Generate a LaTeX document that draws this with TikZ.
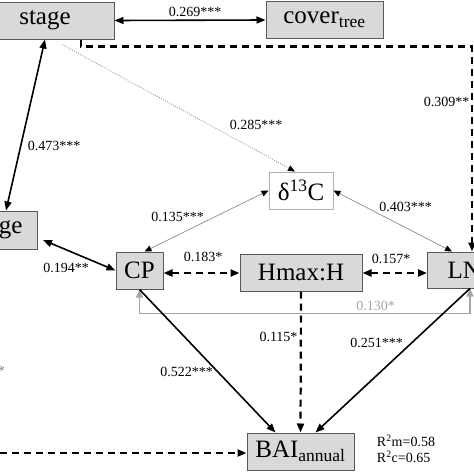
\documentclass[tikz,border=0pt]{standalone}
\usepackage{fontspec}
\setmainfont{Liberation Serif}
\usetikzlibrary{arrows.meta,positioning}
\definecolor{boxgray}{RGB}{217,217,217}
\definecolor{loopgray}{RGB}{165,165,165}

\begin{document}
\begin{tikzpicture}[x=1pt,y=-1pt,
  var/.style={draw=black!65,fill=boxgray,line width=1pt,minimum height=37pt,inner sep=0pt,font=\fontsize{25}{28}\selectfont},
  iso/.style={var,fill=white,draw=black!30},
  coef/.style={font=\fontsize{14}{16}\selectfont,inner sep=0pt},
  both/.style={{Triangle[length=9pt,width=7pt]}-{Triangle[length=9pt,width=7pt]}},
  one/.style={-{Triangle[length=9pt,width=7pt]}},
  fboth/.style={{Triangle[length=7pt,width=6pt,color=black]}-{Triangle[length=7pt,width=6pt,color=black]}},
  sol/.style={line width=1.6pt,black},
  dsh/.style={line width=2.2pt,black,dash pattern=on 7pt off 5pt},
  fine/.style={line width=0.7pt,draw=black!45},
  dots/.style={line width=0.7pt,draw=black!45,dash pattern=on 1pt off 1.3pt},
  loopline/.style={line width=1.4pt,draw=loopgray}]
\useasboundingbox (0,0) rectangle (474,474);
% variables
\node[var,minimum width=138pt] (stage) at (45,20.5) {stage};
\node[var,minimum width=117pt] (cover) at (324.5,20) {cover\textsubscript{tree}};
\node[iso,minimum width=64pt] (d13c) at (301,190.5) {δ\textsuperscript{13}C};
\node[var,anchor=east,text width=70pt,align=right,inner xsep=15pt,minimum height=38pt] (age) at (38,230) {ge};
\node[var,minimum width=47pt] (cp) at (139.5,270.5) {CP};
\node[var,minimum width=122pt] (hmax) at (301,272.5) {Hmax:H};
\node[var,anchor=west,inner xsep=20pt,minimum height=36pt] (ln) at (427,270) {LN};
\node[var,minimum width=107pt] (bai) at (300.5,451.5) {BAI\textsubscript{annual}};
\coordinate (lin) at (0,453);
% paths
\draw[sol,both] (stage.east) -- (cover.west);
\draw[dsh,one] ([xshift=36pt]stage.south) -- ++(0,7) -| ([xshift=45pt]ln.north west);
\draw[dots,-{Triangle[length=7pt,width=6pt,color=black]}] ([xshift=17pt,yshift=-5pt]stage.south) -- ([xshift=-6pt]d13c.north);
\draw[sol,both] ([xshift=-32pt]age.north east) -- (stage.south);
\draw[sol,both] ([xshift=5pt,yshift=-10pt]age.east) -- (cp.west);
\draw[dsh,both] ([yshift=-2.5pt]cp.east) -- ([yshift=-0.5pt]hmax.west);
\draw[dsh,both] ([yshift=-0.5pt]hmax.east) -- ([yshift=-3pt]ln.west);
\draw[fine,fboth] ([xshift=5pt]cp.north) -- (d13c.west);
\draw[fine,fboth] (d13c.east) -- ([xshift=25pt]ln.north west);
\draw[loopline,{Triangle[length=8pt,width=7pt]}-{Triangle[length=8pt,width=7pt]}] (cp.south) -- ++(0,24) -| ([xshift=43pt]ln.south west);
\draw[sol,one] (cp.south) -- ([xshift=-25pt]bai.north);
\draw[dsh,one] (hmax.south) -- (bai.north);
\draw[sol,one] ([xshift=43pt]ln.south west) -- ([xshift=15pt]bai.north);
\draw[dsh,one] (lin) -- ([yshift=-1.5pt]bai.west);
% coefficients
\node[coef] (c269) at (195,12) {0.269***};
\node[coef] (c309) at (446.5,102) {0.309**};
\node[coef] (c285) at (256,125) {0.285***};
\node[coef] (c473) at (54,146) {0.473***};
\node[coef] (c135) at (177.5,217) {0.135***};
\node[coef] (c194) at (66,268) {0.194**};
\node[coef] (c183) at (203,257) {0.183*};
\node[coef] (c403) at (405.5,207) {0.403***};
\node[coef] (c157) at (391,259) {0.157*};
\node[coef,text=loopgray] (c130) at (375.5,306) {0.130*};
\node[coef] (c522) at (186.5,372) {0.522***};
\node[coef] (c115) at (278.5,337) {0.115*};
\node[coef] (c251) at (376.5,343) {0.251***};
\node[coef,text=black!50] (cleft) at (1.5,371) {*};
\node[coef,align=left] (r2) at (406,449) {R\textsuperscript{2}m=0.58\\R\textsuperscript{2}c=0.65};
\end{tikzpicture}
\end{document}
